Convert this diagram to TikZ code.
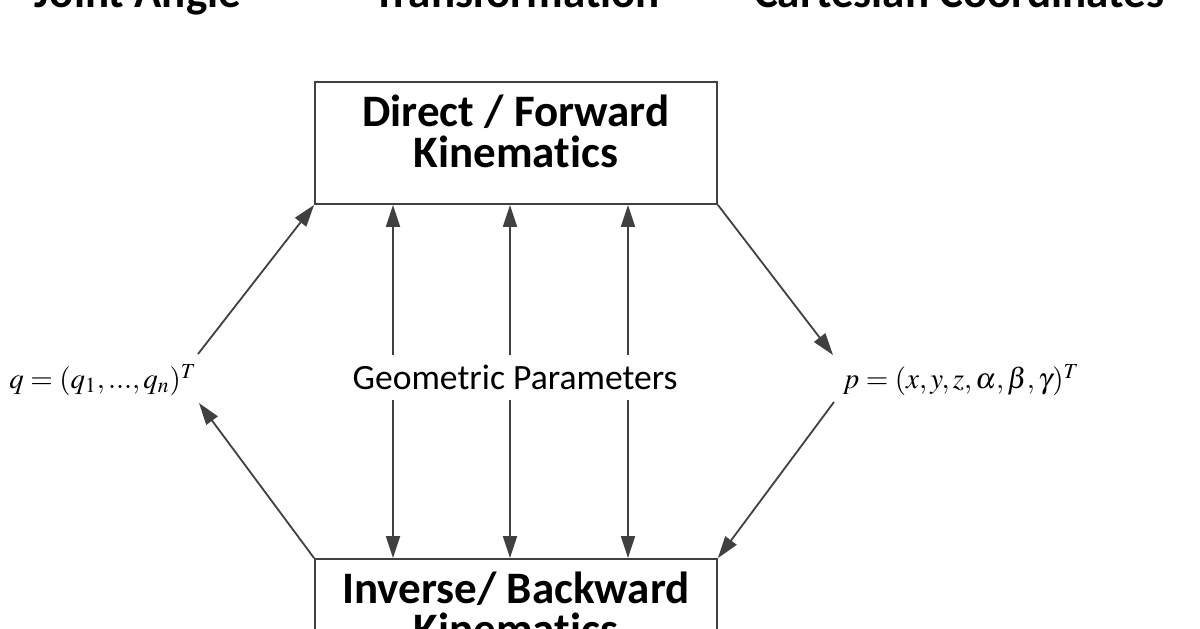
\documentclass[tikz,border=0pt]{standalone}
\usepackage{mathptmx}
\usepackage[no-math]{fontspec}
\setmainfont[Ligatures={NoCommon,NoContextual,NoRare},Contextuals=NoAlternate]{Carlito}
\usetikzlibrary{arrows.meta,positioning}

\tikzset{
  kbox/.style={draw=black!75, line width=0.9pt, minimum width=201pt, minimum height=61pt,
    text depth=12pt, align=center, font=\fontsize{22.5}{20.6}\selectfont\bfseries},
  head/.style={font=\fontsize{22.5}{20}\selectfont\bfseries, anchor=base},
  vec/.style={font=\fontsize{14.5}{16}\selectfont},
  arr/.style={draw=black!75, line width=0.9pt, -{Triangle[length=11pt,width=7pt]}},
}

\begin{document}
\begin{tikzpicture}[x=0.5pt, y=-0.5pt]
        \clip (0,0) rectangle (1200,628);

        % headings
        \node[head] (ja) at (138,7) {Joint Angle};
        \node[head] (tr) at (517,7) {Transformation};
        \node[head] (cc) at (959,7) {Cartesian Coordinates};

        % boxes and labels
        \node[kbox] (fk) at (516,143) {Direct / Forward\\Kinematics};
        \node[kbox] (ik) at (516,620) {Inverse/ Backward\\Kinematics};
        \node[font=\fontsize{17.8}{20}\selectfont, minimum height=22.5pt, inner sep=0pt] (gp) at (515,377.5) {Geometric Parameters};
        \node[vec] (qv) at (103,380) {$q=(q_1,...,q_n)^T$};
        \node[vec] (pv) at (961,380) {$p=(x,y,z,\alpha,\beta,\gamma)^T$};

        \coordinate (qa) at (198,354);
        \coordinate (qb) at (199,403);
        \coordinate (pa) at (833,355);
        \coordinate (pb) at (834,402);

        \draw[arr] (qa) -- (fk.south west);
        \draw[arr] (ik.north west) -- (qb);
        \draw[arr] (fk.south east) -- (pa);
        \draw[arr] (pb) -- (ik.north east);

        \foreach \x in {393,510,628} {
            \coordinate (c) at (\x,0);
            \draw[arr] (gp.north -| c) -- (fk.south -| c);
            \draw[arr] (gp.south -| c) -- (ik.north -| c);
        }
    \end{tikzpicture}
\end{document}
